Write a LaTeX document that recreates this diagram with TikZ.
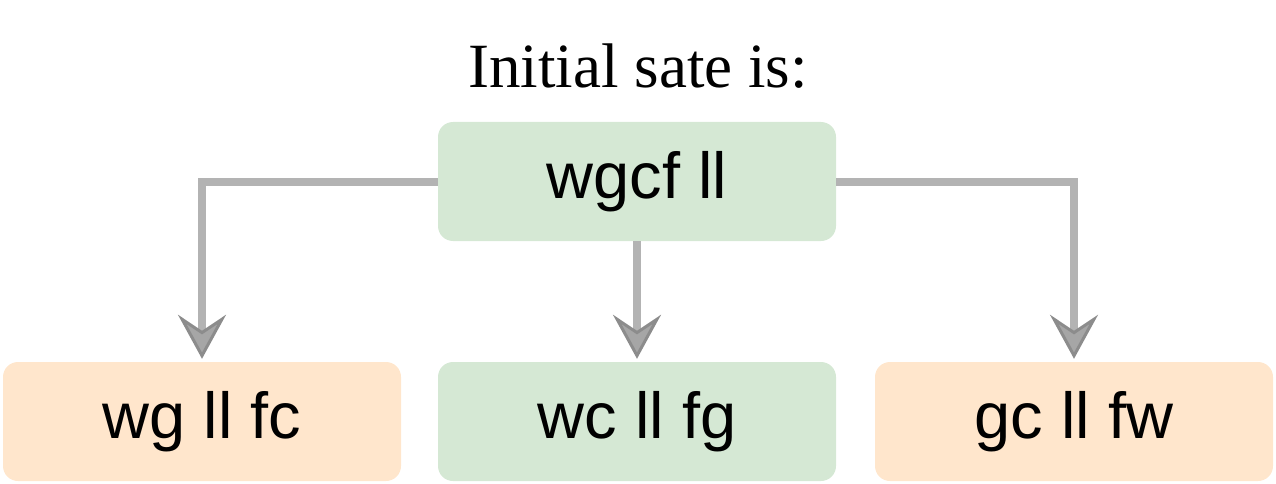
\documentclass[tikz,border=0pt]{standalone}
\usepackage{fontspec}
\setmainfont{Liberation Serif}
\setsansfont{Liberation Sans}
\usetikzlibrary{arrows.meta}
\definecolor{boxgreen}{HTML}{D5E8D4}
\definecolor{boxorange}{HTML}{FFE6CC}
\definecolor{linegray}{HTML}{B3B3B3}
\definecolor{tipgray}{HTML}{8C8C8C}
\definecolor{tipfill}{HTML}{A6A6A6}
\tikzset{
  statebox/.style={rectangle, rounded corners=15pt, minimum width=398pt, minimum height=119pt,
    inner sep=0pt, font=\sffamily\fontsize{65}{65}\selectfont},
  greenbox/.style={statebox, fill=boxgreen},
  orangebox/.style={statebox, fill=boxorange},
  conn/.style={draw=linegray, line width=8pt, shorten >=3pt,
    -{Stealth[length=44pt, width=48pt, inset=16pt, color=tipgray, fill=tipfill, line width=3pt]}}
}
\begin{document}
\begin{tikzpicture}[x=1pt,y=-1pt]
\useasboundingbox (0,0) rectangle (1276,484);
\node[anchor=base, font=\fontsize{63}{63}\selectfont] (title) at (638,88) {Initial sate is:};
\node[greenbox] (top) at (637,181.5) {wgcf ll};
\node[orangebox] (left) at (202,421.5) {wg ll fc};
\node[greenbox] (mid) at (637,421.5) {wc ll fg};
\node[orangebox] (right) at (1074,421.5) {gc ll fw};
\draw[conn] (top.west) -| (left.north);
\draw[conn] (top.south) -- (mid.north);
\draw[conn] (top.east) -| (right.north);
\end{tikzpicture}
\end{document}
